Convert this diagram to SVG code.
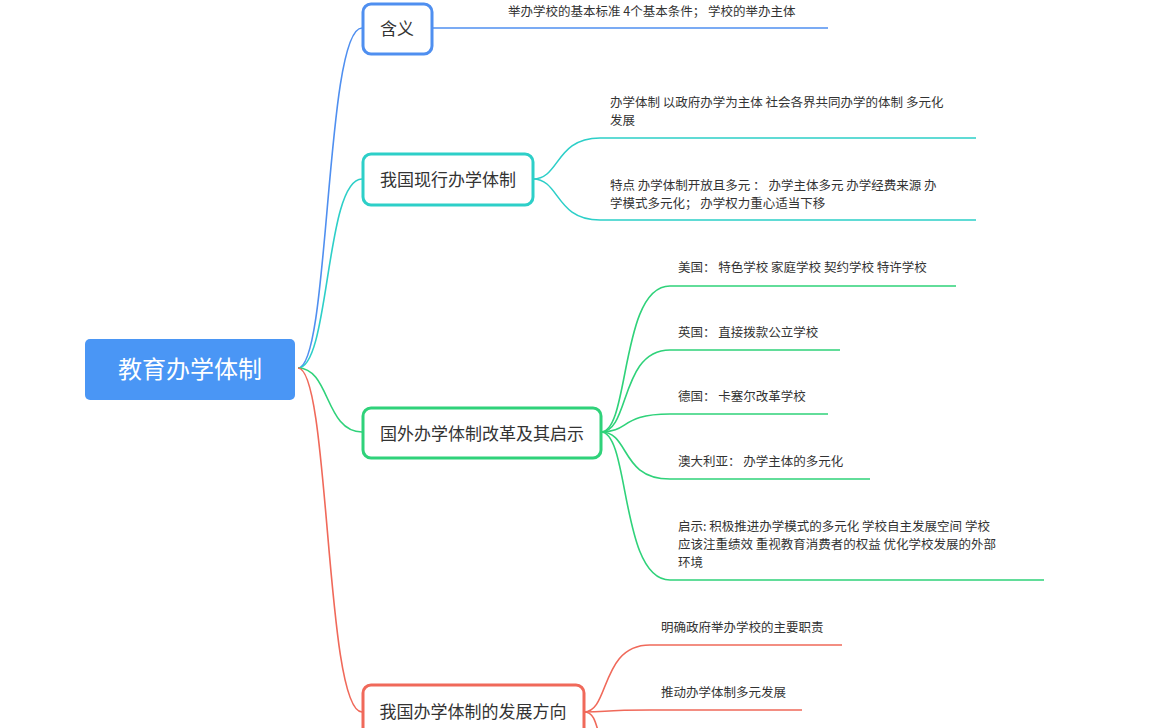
<svg xmlns="http://www.w3.org/2000/svg" width="1166" height="728" viewBox="0 0 1166 728">
<style>
text{font-family:"Noto Sans CJK SC","Liberation Sans",sans-serif;fill:#333}
.leaf{font-size:12.5px}
.nt{font-size:17px}
.n{fill:#fff;stroke-width:3}
.c{fill:none;stroke-width:1.6}
.b{stroke:#4f8ff0}.t{stroke:#2dcfc8}.g{stroke:#2fd27a}.r{stroke:#f0695a}
</style>
<rect width="1166" height="728" fill="#fff"/>
<g id="connectors">
<path class="c b" d="M298 368 C 330 368, 325 28, 362 28"/>
<path class="c t" d="M298 368 C 330 368, 325 179, 362 179"/>
<path class="c g" d="M298 368 C 330 368, 325 432, 362 432"/>
<path class="c r" d="M298 368 C 330 368, 325 712, 362 712"/>
<path class="c b" d="M432 28 L828 28"/>
<path class="c t" d="M533 179 C 560 179, 555 138, 600 138 L976 138"/>
<path class="c t" d="M533 179 C 560 179, 555 220, 600 220 L976 220"/>
<path class="c g" d="M601 432 C 630 432, 620 286, 670 286 L956 286"/>
<path class="c g" d="M601 432 C 630 432, 620 350, 670 350 L840 350"/>
<path class="c g" d="M601 432 C 630 432, 620 414, 670 414 L828 414"/>
<path class="c g" d="M601 432 C 630 432, 620 479, 670 479 L870 479"/>
<path class="c g" d="M601 432 C 630 432, 620 580, 670 580 L1044 580"/>
<path class="c r" d="M584 712 C 610 712, 600 645, 650 645 L842 645"/>
<path class="c r" d="M584 712 C 610 712, 600 710, 650 710 L802 710"/>
<path class="c r" d="M584 712 C 600 712, 595 740, 610 760"/>
</g>
<g id="root"><rect x="85" y="339" width="210" height="61" rx="5" fill="#4a96f5"/><text x="190" y="378" text-anchor="middle" style="font-size:24px;fill:#fff">教育办学体制</text></g>
<g id="n1"><rect class="n b" x="363" y="4" width="69" height="50" rx="8"/><text class="nt" x="397" y="35" text-anchor="middle">含义</text></g>
<g id="n2"><rect class="n t" x="363" y="154" width="170" height="51" rx="8"/><text class="nt" x="448" y="186" text-anchor="middle">我国现行办学体制</text></g>
<g id="n3"><rect class="n g" x="363" y="408" width="238" height="50" rx="8"/><text class="nt" x="482" y="440" text-anchor="middle">国外办学体制改革及其启示</text></g>
<g id="n4"><rect class="n r" x="363" y="685" width="221" height="60" rx="8"/><text class="nt" x="473" y="718" text-anchor="middle">我国办学体制的发展方向</text></g>
<g id="leaves">
<text class="leaf" x="508" y="16">举办学校的基本标准  4个基本条件； 学校的举办主体</text>
<text class="leaf" x="610" y="107">办学体制 以政府办学为主体 社会各界共同办学的体制 多元化</text>
<text class="leaf" x="610" y="125">发展</text>
<text class="leaf" x="610" y="190">特点 办学体制开放且多元 ： 办学主体多元  办学经费来源  办</text>
<text class="leaf" x="610" y="208">学模式多元化； 办学权力重心适当下移</text>
<text class="leaf" x="678" y="272">美国： 特色学校 家庭学校 契约学校 特许学校</text>
<text class="leaf" x="678" y="337">英国：  直接拨款公立学校</text>
<text class="leaf" x="678" y="401">德国：  卡塞尔改革学校</text>
<text class="leaf" x="678" y="466">澳大利亚：  办学主体的多元化</text>
<text class="leaf" x="678" y="531">启示:   积极推进办学模式的多元化  学校自主发展空间 学校</text>
<text class="leaf" x="678" y="549">应该注重绩效  重视教育消费者的权益  优化学校发展的外部</text>
<text class="leaf" x="678" y="567">环境</text>
<text class="leaf" x="661" y="632">明确政府举办学校的主要职责</text>
<text class="leaf" x="661" y="697">推动办学体制多元发展</text>
</g>
</svg>
